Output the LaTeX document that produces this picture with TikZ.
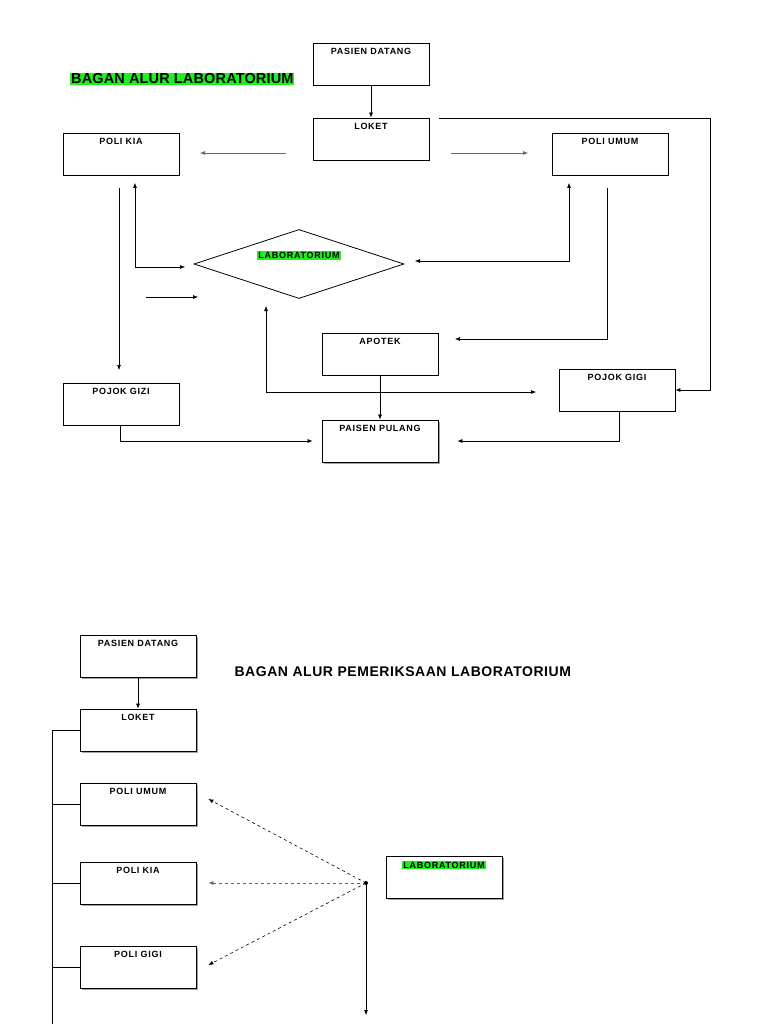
\documentclass[tikz,border=0pt]{standalone}
\usepackage{fontspec}
\setmainfont{Liberation Sans}
\usetikzlibrary{shapes.geometric,shadows,arrows.meta}
\definecolor{hilite}{HTML}{1EF01E}
\tikzset{
  box/.style={draw,thick,fill=white,minimum width=116pt,minimum height=42pt,inner sep=0pt},
  sbox/.style={box,drop shadow={shadow xshift=1.5pt,shadow yshift=-1.5pt,opacity=0.6,fill=black!60}},
  lbl/.style={font=\fontsize{9}{10}\selectfont\bfseries\addfontfeature{LetterSpace=8},inner sep=1pt,anchor=north,yshift=-4pt},
  flow/.style={-{Latex[length=5pt,width=4pt]},semithick},
  both/.style={{Latex[length=5pt,width=4pt]}-{Latex[length=5pt,width=4pt]},semithick},
  hub/.style={dashed,-{Latex[length=5pt,width=4pt]},semithick}
}
\newcommand{\green}[1]{{\setlength{\fboxsep}{1pt}\colorbox{hilite}{#1}}}
\begin{document}
\begin{tikzpicture}[x=1pt,y=-1pt]
\useasboundingbox (0,0) rectangle (768,1024);
% --- bagan alur laboratorium
\node[font=\fontsize{14.5}{15}\selectfont\bfseries\addfontfeature{LetterSpace=1},inner sep=1pt,fill=hilite,anchor=west] (judul1) at (70,79) {BAGAN ALUR LABORATORIUM};
\node[box,label={[lbl]north:PASIEN DATANG}] (datang) at (371,64) {};
\node[box,label={[lbl]north:LOKET}] (loket) at (371,139) {};
\node[box,label={[lbl]north:POLI KIA}] (kia) at (121,154) {};
\node[box,label={[lbl]north:POLI UMUM}] (umum) at (610,154) {};
\node[draw,thick,diamond,minimum width=210pt,minimum height=69pt,inner sep=0pt] (lab) at (299,264) {};
\node[lbl,yshift=4pt] at (299,250) {\green{LABORATORIUM}};
\node[box,label={[lbl]north:APOTEK}] (apotek) at (380,354) {};
\node[box,label={[lbl]north:POJOK GIZI}] (gizi) at (121,404) {};
\node[box,label={[lbl]north:POJOK GIGI}] (gigi) at (617,390) {};
\node[sbox,label={[lbl]north:PAISEN PULANG}] (pulang) at (380,441) {};
\coordinate (kl1) at (286,153); \coordinate (kl2) at (200,153);
\coordinate (kr1) at (451,153); \coordinate (kr2) at (528,153);
\coordinate (lr0) at (439,118); \coordinate (lr) at (710,118);
\coordinate (a1) at (135,183); \coordinate (a2) at (185,267);
\coordinate (b1) at (146,297); \coordinate (b2) at (198,297);
\coordinate (c1) at (569,183); \coordinate (c2) at (415,261);
\coordinate (d1) at (607,188); \coordinate (d2) at (455,339);
\coordinate (e1) at (266,306); \coordinate (e2) at (536,392);
\coordinate (f1) at (119,188); \coordinate (f2) at (119,370);
\draw[flow] (datang) -- (loket);
\draw[flow,black!60] (kl1) -- (kl2);
\draw[flow,black!60] (kr1) -- (kr2);
\draw[flow] (lr0) -- (lr) |- (gigi.east);
\draw[flow] (f1) -- (f2);
\draw[both] (a1) |- (a2);
\draw[flow] (b1) -- (b2);
\draw[both] (c1) |- (c2);
\draw[flow] (d1) |- (d2);
\draw[both] (e1) |- (e2);
\draw[flow] (apotek) -- (pulang);
\draw[flow] (gizi.south) ++(-1,0) |- ([xshift=-9pt]pulang.west);
\draw[flow] (gigi.south) ++(2,0) |- ([xshift=19pt]pulang.east);
% --- bagan alur pemeriksaan laboratorium
\node[font=\fontsize{14}{15}\selectfont\bfseries\addfontfeature{LetterSpace=4},anchor=west] (judul2) at (231,672) {BAGAN ALUR PEMERIKSAAN LABORATORIUM};
\node[sbox,label={[lbl]north:PASIEN DATANG}] (datang2) at (138,656) {};
\node[sbox,label={[lbl]north:LOKET}] (loket2) at (138,730) {};
\node[sbox,label={[lbl]north:POLI UMUM}] (umum2) at (138,804) {};
\node[sbox,label={[lbl]north:POLI KIA}] (kia2) at (138,883) {};
\node[sbox,label={[lbl]north:POLI GIGI}] (gigi2) at (138,967) {};
\node[sbox,label={[lbl]north:\green{LABORATORIUM}}] (lab2) at (444,877) {};
\coordinate (rel) at (52,1024);
\coordinate (pusat) at (366,883);
\coordinate (bawah) at (366,1015);
\draw[flow] (datang2) -- (loket2);
\draw[semithick] (loket2.west) -| (rel);
\foreach \n in {umum2,kia2,gigi2} \draw[semithick] (\n.west) -- (52,0 |- \n.west);
\draw[hub] (pusat) -- ([xshift=12pt,yshift=5pt]umum2.east);
\draw[hub,black!60] (pusat) -- ([xshift=12pt]kia2.east);
\draw[hub] (pusat) -- ([xshift=12pt,yshift=2pt]gigi2.east);
\draw[flow] (pusat) -- (bawah);
\fill (pusat) circle (2pt);
\end{tikzpicture}
\end{document}
